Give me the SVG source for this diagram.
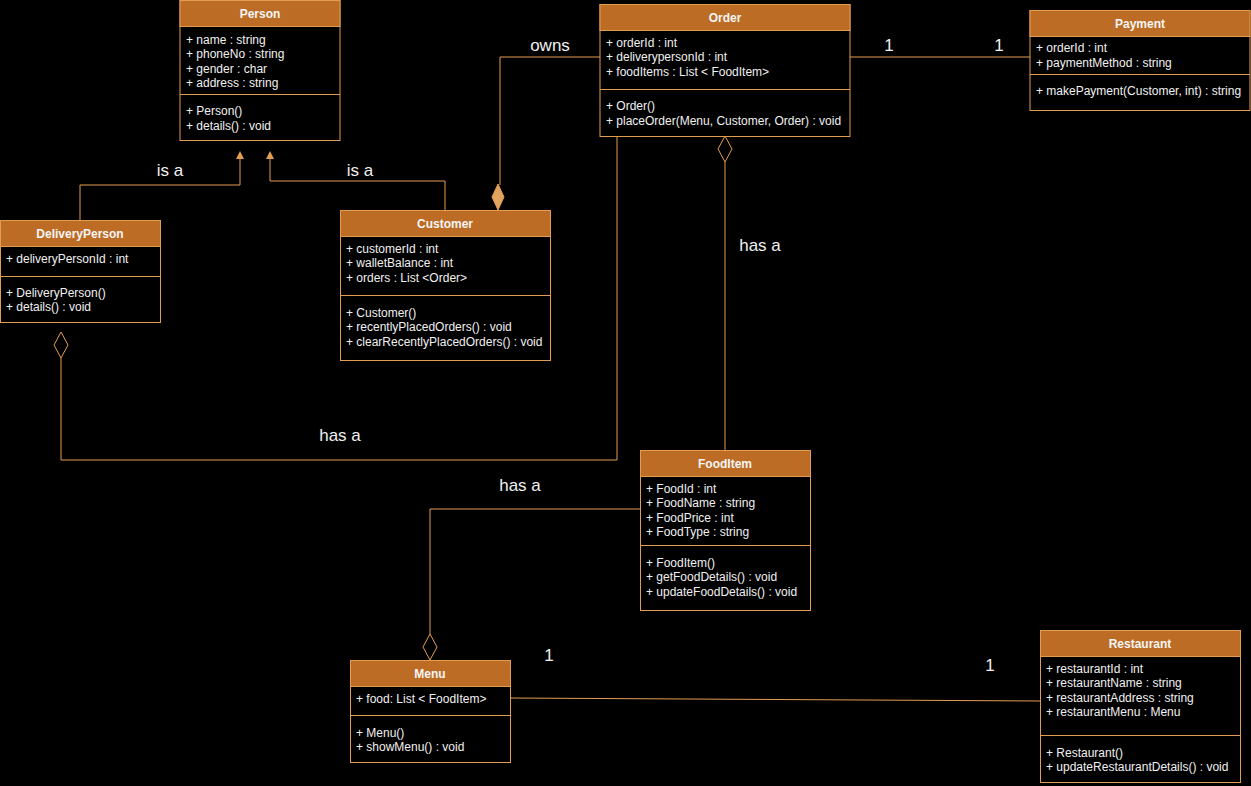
<svg xmlns="http://www.w3.org/2000/svg" width="1251" height="786" viewBox="0 0 1251 786">
<style>
.box{fill:#000;stroke:#E39D50;stroke-width:1}
.hd{fill:#BC6C25;stroke:#E39D50;stroke-width:1}
.t{font-family:"Liberation Sans",Arial,sans-serif;font-size:12px;fill:#f0f0f0}
.h{font-family:"Liberation Sans",Arial,sans-serif;font-size:12px;font-weight:bold;fill:#f5f5f5;text-anchor:middle}
.dv{stroke:#E39D50;stroke-width:1}
.c{fill:none;stroke:#E39D50;stroke-width:1}
.lb{font-family:"Liberation Sans",Arial,sans-serif;font-size:17px;fill:#f0f0f0;text-anchor:middle}
</style>
<rect width="1251" height="786" fill="#000"/>

<g id="connectors">
<path class="c" d="M80,220 V185 H240 V158"/>
<polygon points="236,159 240,151 244,159" fill="#E39D50"/>
<path class="c" d="M445,210 V181 H270 V158"/>
<polygon points="266,159 270,151 274,159" fill="#E39D50"/>
<path class="c" d="M600,57 H500 V185"/>
<polygon points="498,184 504,197 498,210 492,197" fill="#E1A45E" stroke="#E39D50"/>
<path class="c" d="M850,57 H1030"/>
<polygon points="725,136 732,149 725,162 718,149" class="box"/>
<path class="c" d="M725,162 V450"/>
<path class="c" d="M617,136 V460 H61 V358"/>
<polygon points="61,332 68,345 61,358 54,345" class="box"/>
<path class="c" d="M640,509 H430 V634"/>
<polygon points="430,634 437,647 430,660 423,647" class="box"/>
<path class="c" d="M510,698 L1040,701"/>
<text class="lb" x="170" y="176">is a</text>
<text class="lb" x="360" y="176">is a</text>
<text class="lb" x="550" y="51">owns</text>
<text class="lb" x="889" y="51">1</text>
<text class="lb" x="999" y="51">1</text>
<text class="lb" x="760" y="251">has a</text>
<text class="lb" x="340" y="441">has a</text>
<text class="lb" x="520" y="491">has a</text>
<text class="lb" x="549" y="661">1</text>
<text class="lb" x="990" y="671">1</text>
</g>

<g id="Person">
<rect class="box" x="180" y="0.5" width="160" height="140"/>
<rect class="hd" x="180" y="0.5" width="160" height="26"/>
<text class="h" x="260" y="18">Person</text>
<text class="t" x="186" y="44">+ name : string</text>
<text class="t" x="186" y="58">+ phoneNo : string</text>
<text class="t" x="186" y="73">+ gender : char</text>
<text class="t" x="186" y="87">+ address : string</text>
<line class="dv" x1="180" y1="94.5" x2="340" y2="94.5"/>
<text class="t" x="186" y="115">+ Person()</text>
<text class="t" x="186" y="130">+ details() : void</text>
</g>

<g id="Order">
<rect class="box" x="600" y="4.5" width="250" height="132"/>
<rect class="hd" x="600" y="4.5" width="250" height="26"/>
<text class="h" x="725" y="22">Order</text>
<text class="t" x="606" y="47">+ orderId : int</text>
<text class="t" x="606" y="61">+ deliverypersonId : int</text>
<text class="t" x="606" y="76">+ foodItems : List &lt; FoodItem&gt;</text>
<line class="dv" x1="600" y1="89.5" x2="850" y2="89.5"/>
<text class="t" x="606" y="110">+ Order()</text>
<text class="t" x="606" y="125">+ placeOrder(Menu, Customer, Order) : void</text>
</g>

<g id="Payment">
<rect class="box" x="1030" y="10.5" width="220" height="100"/>
<rect class="hd" x="1030" y="10.5" width="220" height="26"/>
<text class="h" x="1140" y="28">Payment</text>
<text class="t" x="1036" y="52">+ orderId : int</text>
<text class="t" x="1036" y="67">+ paymentMethod : string</text>
<line class="dv" x1="1030" y1="74.5" x2="1250" y2="74.5"/>
<text class="t" x="1036" y="95">+ makePayment(Customer, int) : string</text>
</g>

<g id="DeliveryPerson">
<rect class="box" x="0.5" y="220.5" width="160" height="102"/>
<rect class="hd" x="0.5" y="220.5" width="160" height="26"/>
<text class="h" x="80" y="238">DeliveryPerson</text>
<text class="t" x="6" y="263">+ deliveryPersonId : int</text>
<line class="dv" x1="0" y1="276.5" x2="160" y2="276.5"/>
<text class="t" x="6" y="297">+ DeliveryPerson()</text>
<text class="t" x="6" y="311">+ details() : void</text>
</g>

<g id="Customer">
<rect class="box" x="340.5" y="210.5" width="210" height="150"/>
<rect class="hd" x="340.5" y="210.5" width="210" height="26"/>
<text class="h" x="445" y="228">Customer</text>
<text class="t" x="346" y="253">+ customerId : int</text>
<text class="t" x="346" y="267">+ walletBalance : int</text>
<text class="t" x="346" y="282">+ orders : List &lt;Order&gt;</text>
<line class="dv" x1="340" y1="295.5" x2="550" y2="295.5"/>
<text class="t" x="346" y="317">+ Customer()</text>
<text class="t" x="346" y="331">+ recentlyPlacedOrders() : void</text>
<text class="t" x="346" y="346">+ clearRecentlyPlacedOrders() : void</text>
</g>

<g id="FoodItem">
<rect class="box" x="640.5" y="450.5" width="170" height="160"/>
<rect class="hd" x="640.5" y="450.5" width="170" height="26"/>
<text class="h" x="725" y="468">FoodItem</text>
<text class="t" x="646" y="493">+ FoodId : int</text>
<text class="t" x="646" y="507">+ FoodName : string</text>
<text class="t" x="646" y="522">+ FoodPrice : int</text>
<text class="t" x="646" y="536">+ FoodType : string</text>
<line class="dv" x1="640" y1="545.5" x2="810" y2="545.5"/>
<text class="t" x="646" y="567">+ FoodItem()</text>
<text class="t" x="646" y="581">+ getFoodDetails() : void</text>
<text class="t" x="646" y="596">+ updateFoodDetails() : void</text>
</g>

<g id="Menu">
<rect class="box" x="350.5" y="660.5" width="160" height="102"/>
<rect class="hd" x="350.5" y="660.5" width="160" height="26"/>
<text class="h" x="430" y="678">Menu</text>
<text class="t" x="356" y="703">+ food: List &lt; FoodItem&gt;</text>
<line class="dv" x1="350" y1="715.5" x2="510" y2="715.5"/>
<text class="t" x="356" y="737">+ Menu()</text>
<text class="t" x="356" y="751">+ showMenu() : void</text>
</g>

<g id="Restaurant">
<rect class="box" x="1040.5" y="630.5" width="200" height="152"/>
<rect class="hd" x="1040.5" y="630.5" width="200" height="26"/>
<text class="h" x="1140" y="648">Restaurant</text>
<text class="t" x="1046" y="673">+ restaurantId : int</text>
<text class="t" x="1046" y="687">+ restaurantName : string</text>
<text class="t" x="1046" y="702">+ restaurantAddress : string</text>
<text class="t" x="1046" y="716">+ restaurantMenu : Menu</text>
<line class="dv" x1="1040" y1="735.5" x2="1240" y2="735.5"/>
<text class="t" x="1046" y="757">+ Restaurant()</text>
<text class="t" x="1046" y="771">+ updateRestaurantDetails() : void</text>
</g>
</svg>
